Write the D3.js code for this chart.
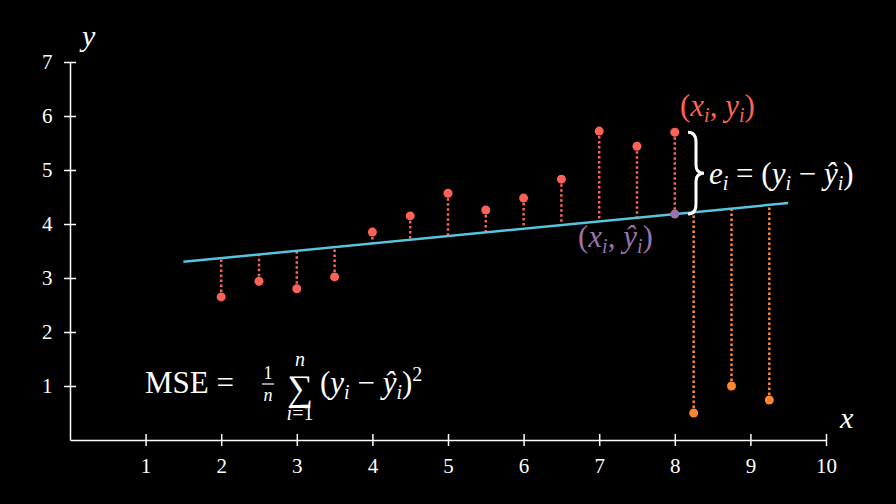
<!DOCTYPE html><html><head><script src="https://cdn.jsdelivr.net/npm/d3@7"></script>
<style>body{margin:0;background:#000}text{font-family:"Liberation Serif",serif;fill:#fff}</style></head><body>
<svg id="c" width="896" height="504"></svg>
<script>
const xTicks=[1,2,3,4,5,6,7,8,9,10];
const yTicks=[1,2,3,4,5,6,7];
const redX=[2,2.5,3,3.5,4,4.5,5,5.5,6,6.5,7,7.5,8];
const redY=[2.65,2.94,2.8,3.02,3.85,4.15,4.57,4.26,4.48,4.83,5.72,5.44,5.7];
const orX=[8.25,8.75,9.25];
const orY=[0.5,1.0,0.74];
const lineX=[1.5,9.5];
const a=3.30,b=0.136;
const f=x=>a+b*(x-1.5);
const svg=d3.select("#c");
svg.append("rect").attr("width",896).attr("height",504).attr("fill","#000");
const x=d3.scaleLinear().domain([0,10]).range([70,826]);
const y=d3.scaleLinear().domain([0,7]).range([440,62]);
const gx=svg.append("g").attr("transform","translate(0,440)").call(d3.axisBottom(x).tickValues(xTicks).tickFormat(d3.format("d")).tickSize(6).tickSizeOuter(0));
const gy=svg.append("g").attr("transform","translate(70,0)").call(d3.axisLeft(y).tickValues(yTicks).tickFormat(d3.format("d")).tickSize(6).tickSizeOuter(0));
[gx,gy].forEach(g=>{g.selectAll("path,line").attr("stroke","#fff").attr("stroke-width",1.5);g.selectAll("text").attr("fill","#fff").attr("font-size",21).attr("font-family","Liberation Serif");});
gx.selectAll(".tick line").attr("y1",-6);gx.selectAll("text").attr("dy","1.15em");
gy.selectAll(".tick line").attr("x1",6);gy.selectAll("text").attr("dx","-0.4em");
svg.append("text").attr("x",840).attr("y",428).attr("font-size",30).attr("font-style","italic").text("x");
svg.append("text").attr("x",82).attr("y",46).attr("font-size",30).attr("font-style","italic").text("y");
svg.selectAll(".rl").data(redX).join("line").attr("x1",d=>x(d)).attr("x2",d=>x(d)).attr("y1",(d,i)=>y(redY[i])).attr("y2",d=>y(f(d))).attr("stroke","#fc6255").attr("stroke-width",2.5).attr("stroke-dasharray","2.5,2.5");
svg.selectAll(".ol").data(orX).join("line").attr("x1",d=>x(d)).attr("x2",d=>x(d)).attr("y1",(d,i)=>y(orY[i])).attr("y2",d=>y(f(d))).attr("stroke","#ff862f").attr("stroke-width",2.5).attr("stroke-dasharray","2.5,2.5");
svg.append("line").attr("x1",x(lineX[0])).attr("x2",x(lineX[1])).attr("y1",y(f(lineX[0]))).attr("y2",y(f(lineX[1]))).attr("stroke","#58c4dd").attr("stroke-width",2.5);
svg.selectAll(".rp").data(redX).join("circle").attr("cx",d=>x(d)).attr("cy",(d,i)=>y(redY[i])).attr("r",4.5).attr("fill","#fc6255");
svg.selectAll(".op").data(orX).join("circle").attr("cx",d=>x(d)).attr("cy",(d,i)=>y(orY[i])).attr("r",4.5).attr("fill","#ff862f");
svg.append("circle").attr("cx",x(8)).attr("cy",y(f(8))).attr("r",4.5).attr("fill","#9a72ac");
const bx=688,t=y(5.7),bt=y(f(8)),m=(t+bt)/2;
svg.append("path").attr("d",`M${bx},${t} Q${bx+8},${t} ${bx+8},${t+10} L${bx+8},${m-8} Q${bx+8},${m} ${bx+16},${m} Q${bx+8},${m} ${bx+8},${m+8} L${bx+8},${bt-10} Q${bx+8},${bt} ${bx},${bt}`).attr("fill","none").attr("stroke","#fff").attr("stroke-width",3);
const sub=(s)=>`<tspan font-size="20" dy="6" font-style="italic">${s}</tspan>`;
svg.append("text").attr("x",680).attr("y",116).attr("font-size",31).style("fill","#fc6255").html(`(<tspan font-style="italic">x</tspan>${sub("i")}<tspan dy="-6">, </tspan><tspan font-style="italic">y</tspan>${sub("i")}<tspan dy="-6">)</tspan>`);
svg.append("text").attr("x",578).attr("y",247).attr("font-size",31).style("fill","#9a72ac").html(`(<tspan font-style="italic">x</tspan>${sub("i")}<tspan dy="-6">, </tspan><tspan font-style="italic">ŷ</tspan>${sub("i")}<tspan dy="-6">)</tspan>`);
svg.append("text").attr("x",709).attr("y",184).attr("font-size",31).html(`<tspan font-style="italic">e</tspan>${sub("i")}<tspan dy="-6"> = (</tspan><tspan font-style="italic">y</tspan>${sub("i")}<tspan dy="-6"> − </tspan><tspan font-style="italic">ŷ</tspan>${sub("i")}<tspan dy="-6">)</tspan>`);
svg.append("text").attr("x",145).attr("y",393).attr("font-size",31).text("MSE =");
svg.append("text").attr("x",268).attr("y",379).attr("font-size",18).attr("text-anchor","middle").text("1");
svg.append("line").attr("x1",262).attr("x2",274).attr("y1",384).attr("y2",384).attr("stroke","#fff").attr("stroke-width",1.2);
svg.append("text").attr("x",268).attr("y",401).attr("font-size",18).attr("font-style","italic").attr("text-anchor","middle").text("n");
svg.append("text").attr("x",300).attr("y",400).attr("font-size",36).attr("text-anchor","middle").text("∑");
svg.append("text").attr("x",300).attr("y",366).attr("font-size",20).attr("font-style","italic").attr("text-anchor","middle").text("n");
svg.append("text").attr("x",300).attr("y",420).attr("font-size",20).attr("text-anchor","middle").html('<tspan font-style="italic">i</tspan>=1');
svg.append("text").attr("x",320).attr("y",393).attr("font-size",31).html(`(<tspan font-style="italic">y</tspan>${sub("i")}<tspan dy="-6"> − </tspan><tspan font-style="italic">ŷ</tspan>${sub("i")}<tspan dy="-6">)</tspan><tspan font-size="20" dy="-12">2</tspan>`);
</script></body></html>
